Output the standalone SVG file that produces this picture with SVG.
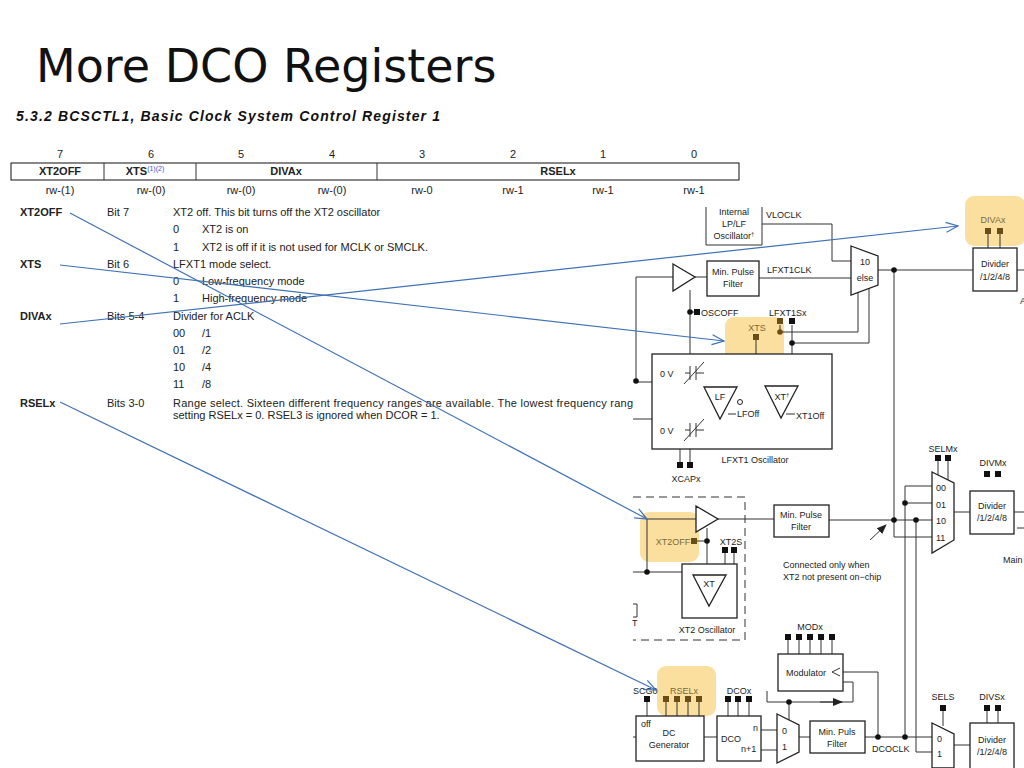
<svg xmlns="http://www.w3.org/2000/svg" width="1024" height="768" viewBox="0 0 1024 768">
<defs>
<style>
.t{font-family:"Liberation Sans",Arial,sans-serif;font-size:11px;fill:#222}
.d{font-family:"Liberation Sans",Arial,sans-serif;font-size:11px;fill:#222}
.b{font-weight:bold}
.c{text-anchor:middle}
.s{font-family:"Liberation Sans",Arial,sans-serif;font-size:9px;fill:#222}
.ln{stroke:#333;stroke-width:1;fill:none}
.bx{stroke:#222;stroke-width:1.3;fill:#fff}
.hl{fill:#f9dc95;opacity:0.9}
.sq{fill:#111}
.bsq{fill:#6b4e16}
.bl{stroke:#3f72b5;stroke-width:1.2;fill:none;marker-end:url(#ah)}
</style>
<marker id="ah" markerWidth="14" markerHeight="12" refX="13" refY="6" orient="auto" markerUnits="userSpaceOnUse"><path d="M1,1 L13,6 L1,11" fill="none" stroke="#3f72b5" stroke-width="1.2"/></marker>
<marker id="fa" markerWidth="10" markerHeight="10" refX="9" refY="5" orient="auto" markerUnits="userSpaceOnUse"><path d="M0,1 L10,5 L0,9 Z" fill="#222"/></marker>
</defs>
<rect width="1024" height="768" fill="#fff"/>
<text x="36" y="82" style="font-family:'DejaVu Sans',Verdana,sans-serif;font-size:46px;fill:#111">More DCO Registers</text>
<text x="16" y="121" textLength="424" style="font-family:'Liberation Sans',Arial,sans-serif;font-size:14px;font-weight:bold;font-style:italic;fill:#111">5.3.2   BCSCTL1, Basic Clock System Control Register 1</text>
<g id="table">
<g class="t c"><text x="60" y="158">7</text><text x="151" y="158">6</text><text x="241" y="158">5</text><text x="332" y="158">4</text><text x="422" y="158">3</text><text x="513" y="158">2</text><text x="603" y="158">1</text><text x="694" y="158">0</text></g>
<rect x="11" y="163" width="728" height="17" fill="none" stroke="#111" stroke-width="1"/>
<path d="M104,163V180M196,163V180M377,163V180" class="ln"/>
<g class="t c b"><text x="60" y="175">XT2OFF</text><text x="145" y="175">XTS<tspan style="font-size:7px;fill:#3355cc;font-weight:normal" dy="-4">(1)(2)</tspan></text><text x="286" y="175">DIVAx</text><text x="558" y="175">RSELx</text></g>
<g class="t c"><text x="60" y="194">rw-(1)</text><text x="151" y="194">rw-(0)</text><text x="241" y="194">rw-(0)</text><text x="332" y="194">rw-(0)</text><text x="422" y="194">rw-0</text><text x="513" y="194">rw-1</text><text x="603" y="194">rw-1</text><text x="694" y="194">rw-1</text></g>
</g>
<g id="desc" class="d">
<text x="20" y="216" class="b">XT2OFF</text><text x="107" y="216">Bit 7</text><text x="173" y="216">XT2 off. This bit turns off the XT2 oscillator</text>
<text x="173" y="233">0</text><text x="202" y="233">XT2 is on</text>
<text x="173" y="251">1</text><text x="202" y="251">XT2 is off if it is not used for MCLK or SMCLK.</text>
<text x="20" y="268" class="b">XTS</text><text x="107" y="268">Bit 6</text><text x="173" y="268">LFXT1 mode select.</text>
<text x="173" y="285">0</text><text x="202" y="285">Low-frequency mode</text>
<text x="173" y="302">1</text><text x="202" y="302">High-frequency mode</text>
<text x="20" y="320" class="b">DIVAx</text><text x="107" y="320">Bits 5-4</text><text x="173" y="320">Divider for ACLK</text>
<text x="173" y="337">00</text><text x="202" y="337">/1</text>
<text x="173" y="354">01</text><text x="202" y="354">/2</text>
<text x="173" y="371">10</text><text x="202" y="371">/4</text>
<text x="173" y="388">11</text><text x="202" y="388">/8</text>
<text x="20" y="407" class="b">RSELx</text><text x="107" y="407">Bits 3-0</text><text x="173" y="407" textLength="460">Range select. Sixteen different frequency ranges are available. The lowest frequency rang</text>
<text x="173" y="419">setting RSELx = 0. RSEL3 is ignored when DCOR = 1.</text>
</g>
<g id="highlights">
<rect x="965" y="196" width="60" height="50" rx="9" class="hl"/>
<rect x="725" y="317" width="59" height="48" rx="9" class="hl"/>
<rect x="640" y="512" width="59" height="50" rx="9" class="hl"/>
<rect x="657" y="666" width="59" height="50" rx="9" class="hl"/>
</g>
<g id="connectors" class="ln">
<path d="M706,207V245H762V207M762,224H832V261H851"/>
<path d="M695,277H707M759,278H851M878,270H973M894,270V537H932M894,520H932M673,277H636V382H652M690,290V354M697,312H690"/>
<path d="M780,325V332H858V285M792,325V354M792,343H869V282"/>
<path d="M756,340V402M720,373H781V386M720,373V387M737,402H765M720,419V430H781V418M690,373H704M690,430H704M633,419H652"/>
<path d="M680,449V462M690,449V462"/>
<path d="M988,234V248M1000,234V248M1017,270H1024"/>
<path d="M938,461V475M948,461V480M954,512H970M1014,512H1024M1017,528H1024"/>
<path d="M905,486H932M905,486V737M905,503H932M916,520V752H932"/>
<path d="M647,519H696M647,519V572M633,572H682M707,528V564M694,541H707M725,553V564M734,553V564M718,519H774M829,520H894"/>
<path d="M633,604H637V617H633"/>
<path d="M788,640V654M799,640V654M810,640V654M821,640V654M832,640V654"/>
<path d="M767,691V702H853V682H843M843,672H878V737M789,702V720"/>
<path d="M647,702V716M666,702V716M677,702V716M688,702V716M699,702V716M728,702V716M738,702V716M749,702V716"/>
<path d="M633,737H636M704,737H717M761,730H777M761,750H777M799,737H810M865,737H932M943,711V726M987,711V723M998,711V723M954,745H970"/>
<path d="M870,540L886,525" marker-end="url(#fa)"/>
<path d="M820,702L842,702" marker-end="url(#fa)"/>
<path d="M633,497H745V640H633" stroke-dasharray="8,5"/>
</g>
<g id="dots" class="sq">
<circle cx="636" cy="381" r="2.8"/><circle cx="690" cy="312" r="2.8"/><circle cx="780" cy="332" r="2.8" class="bsq"/><circle cx="792" cy="343" r="2.8"/>
<circle cx="894" cy="270" r="2.8"/><circle cx="720" cy="373" r="2.8"/><circle cx="720" cy="430" r="2.8"/><circle cx="752" cy="402" r="2.8"/>
<circle cx="894" cy="520" r="2.8"/><circle cx="905" cy="503" r="2.8"/><circle cx="916" cy="520" r="2.8"/><circle cx="647" cy="572" r="2.8"/><circle cx="707" cy="541" r="2.8"/>
<circle cx="789" cy="702" r="2.8"/><circle cx="878" cy="737" r="2.8"/><circle cx="905" cy="737" r="2.8"/>
</g>
<g id="squares">
<rect x="694" y="309" width="6" height="6" class="sq"/>
<rect x="777" y="318" width="6" height="6" class="bsq"/><rect x="789" y="318" width="6" height="6" class="sq"/><rect x="753" y="334" width="6" height="6" class="bsq"/>
<rect x="985" y="228" width="6" height="6" class="bsq"/><rect x="997" y="228" width="6" height="6" class="bsq"/>
<rect x="677" y="462" width="6" height="6" class="sq"/><rect x="687" y="462" width="6" height="6" class="sq"/>
<rect x="935" y="455" width="6" height="6" class="sq"/><rect x="945" y="455" width="6" height="6" class="sq"/>
<rect x="984" y="471" width="6" height="6" class="sq"/><rect x="995" y="471" width="6" height="6" class="sq"/>
<rect x="691" y="538" width="6" height="6" class="bsq"/><rect x="722" y="547" width="6" height="6" class="sq"/><rect x="731" y="547" width="6" height="6" class="sq"/>
<rect x="785" y="634" width="6" height="6" class="sq"/><rect x="796" y="634" width="6" height="6" class="sq"/><rect x="807" y="634" width="6" height="6" class="sq"/><rect x="818" y="634" width="6" height="6" class="sq"/><rect x="829" y="634" width="6" height="6" class="sq"/>
<rect x="644" y="696" width="6" height="6" class="sq"/><rect x="663" y="696" width="6" height="6" class="bsq"/><rect x="674" y="696" width="6" height="6" class="bsq"/><rect x="685" y="696" width="6" height="6" class="bsq"/><rect x="696" y="696" width="6" height="6" class="bsq"/>
<rect x="725" y="696" width="6" height="6" class="sq"/><rect x="735" y="696" width="6" height="6" class="sq"/><rect x="746" y="696" width="6" height="6" class="sq"/>
<rect x="940" y="705" width="6" height="6" class="sq"/><rect x="984" y="705" width="6" height="6" class="sq"/><rect x="995" y="705" width="6" height="6" class="sq"/>
</g>
<g id="lplf"><text class="s c" x="734" y="215">Internal</text><text class="s c" x="734" y="227">LP/LF</text><text class="s c" x="734" y="239">Oscillator<tspan font-size="6" dy="-3">†</tspan></text><text class="s" x="766" y="218">VLOCLK</text></g>
<g id="buf1"><path d="M673,264L695,277L673,291Z" class="bx"/></g>
<g id="mpf1"><rect x="707" y="261" width="52" height="35" class="bx"/><text class="s c" x="733" y="275">Min. Pulse</text><text class="s c" x="733" y="287">Filter</text><text class="s" x="767" y="273">LFXT1CLK</text></g>
<g id="muxA"><path d="M851,246L878,256V285L851,295Z" class="bx"/><text class="s c" x="865" y="265">10</text><text class="s c" x="865" y="281">else</text></g>
<g id="divA"><rect x="973" y="248" width="44" height="43" class="bx"/><text class="s c" x="995" y="267">Divider</text><text class="s c" x="995" y="280">/1/2/4/8</text><text class="s c" x="993" y="223" style="fill:#7a6a3a">DIVAx</text><text class="s" x="1020" y="304">A</text></g>
<g id="xtslbl"><text class="s" x="701" y="316">OSCOFF</text><text class="s" x="769" y="316">LFXT1Sx</text><text class="s c" x="757" y="331" style="fill:#7a6a3a">XTS</text></g>
<g id="lfxt1">
<rect x="652" y="354" width="180" height="95" class="bx"/>
<text class="s" x="660" y="377">0 V</text><text class="s" x="660" y="434">0 V</text>
<path d="M685,373H690M690,366V380M696,366V380M696,373H704M685,430H690M690,423V437M696,423V437M696,430H704" class="ln"/>
<path d="M684,384L704,362M684,441L704,419" class="ln"/>
<path d="M704,387H737L720,419Z" class="bx"/><path d="M765,386H798L781,418Z" class="bx"/>
<circle cx="740" cy="402" r="2.5" fill="#fff" stroke="#222"/>
<text class="s c" x="720" y="400">LF</text><text class="s c" x="782" y="400">XT<tspan font-size="6" dy="-3">†</tspan></text>
<path d="M728,414H736M786,414H795" class="ln"/>
<text class="s" x="737" y="417">LFOff</text><text class="s" x="796" y="419">XT1Off</text>
<text class="s c" x="755" y="463">LFXT1 Oscillator</text><text class="s c" x="686" y="482">XCAPx</text>
</g>
<g id="muxM"><path d="M932,472L954,483V540L932,553Z" class="bx"/><text class="s" x="936" y="491">00</text><text class="s" x="936" y="508">01</text><text class="s" x="936" y="524">10</text><text class="s" x="936" y="541">11</text><text class="s c" x="943" y="452">SELMx</text></g>
<g id="divM"><rect x="970" y="491" width="44" height="43" class="bx"/><text class="s c" x="992" y="509">Divider</text><text class="s c" x="992" y="521">/1/2/4/8</text><text class="s c" x="993" y="466">DIVMx</text><text class="s" x="1003" y="563">Main</text></g>
<g id="xt2">
<path d="M696,506L718,519L696,532Z" class="bx"/>
<text class="s c" x="673" y="545" style="fill:#7a6a3a">XT2OFF</text><text class="s c" x="731" y="545">XT2S</text>
<rect x="682" y="564" width="55" height="54" class="bx"/><path d="M693,575H726L709,606Z" class="bx"/><text class="s c" x="709" y="587">XT</text>
<text class="s c" x="707" y="633">XT2 Oscillator</text><text class="s" x="632" y="626">T</text>
</g>
<g id="mpf2"><rect x="774" y="505" width="55" height="32" class="bx"/><text class="s c" x="801" y="518">Min. Pulse</text><text class="s c" x="801" y="530">Filter</text></g>
<g id="note"><text class="s" x="783" y="568">Connected only when</text><text class="s" x="783" y="580">XT2 not present on−chip</text></g>
<g id="mod"><rect x="778" y="654" width="65" height="37" class="bx"/><text class="s c" x="806" y="676">Modulator</text><path d="M840,668L832,672L840,676" class="ln"/><text class="s c" x="810" y="630">MODx</text></g>
<g id="dcg"><rect x="636" y="716" width="68" height="45" class="bx"/><text class="s" x="641" y="727">off</text><text class="s c" x="669" y="736">DC</text><text class="s c" x="669" y="748">Generator</text><text class="s" x="633" y="694">SCG0</text><text class="s c" x="684" y="694" style="fill:#7a6a3a">RSELx</text></g>
<g id="dco"><rect x="717" y="716" width="44" height="45" class="bx"/><text class="s" x="721" y="742">DCO</text><text class="s" x="753" y="731">n</text><text class="s" x="741" y="752">n+1</text><text class="s c" x="739" y="694">DCOx</text></g>
<g id="muxD"><path d="M777,714L799,725V752L777,763Z" class="bx"/><text class="s" x="782" y="734">0</text><text class="s" x="782" y="750">1</text></g>
<g id="mpf3"><rect x="810" y="721" width="55" height="32" class="bx"/><text class="s c" x="837" y="735">Min. Puls</text><text class="s c" x="837" y="747">Filter</text><text class="s" x="872" y="752">DCOCLK</text></g>
<g id="muxS"><path d="M932,723L954,734V768H932Z" class="bx"/><text class="s" x="937" y="742">0</text><text class="s" x="937" y="757">1</text><text class="s c" x="943" y="700">SELS</text></g>
<g id="divS"><rect x="970" y="723" width="44" height="50" class="bx"/><text class="s c" x="992" y="743">Divider</text><text class="s c" x="992" y="755">/1/2/4/8</text><text class="s c" x="992" y="700">DIVSx</text></g>
<g id="annotations">
<path d="M70,213L647,519" class="bl"/>
<path d="M60,265L724,341" class="bl"/>
<path d="M60,324L958,226" class="bl"/>
<path d="M60,402L656,690" class="bl"/>
</g>
</svg>
